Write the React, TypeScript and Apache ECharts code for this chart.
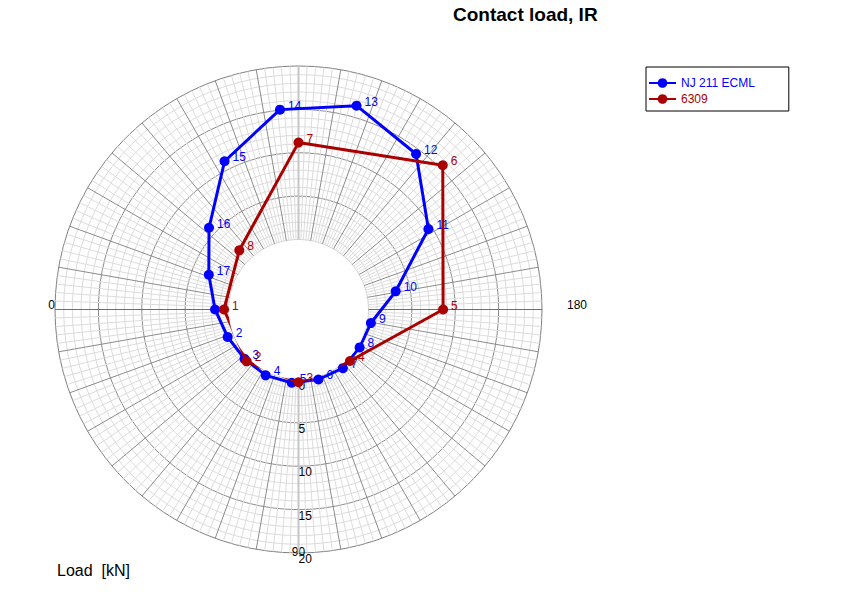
import React, { useEffect, useRef } from 'react';
import * as echarts from 'echarts';

const FONT = 'Liberation Sans, Arial, sans-serif';

const chartTitle = 'Contact load, IR';
const radiusName = 'Load  [kN]';

const blueName = 'NJ 211 ECML';
const blueAngles = [0, 21.2, 42.4, 63.5, 84.7, 105.9, 127.1, 148.2, 169.4, 190.6, 211.8, 232.9, 254.1, 275.3, 296.5, 317.6, 338.8];
const blueLoads = [1.55, 0.69, 0.36, 0.41, 0.41, 0.32, 0.41, 0.22, 0.42, 3.33, 9.55, 14.4, 16.36, 15.07, 11.03, 5.9, 3.02];
const blueLabels = ['1', '2', '3', '4', '5', '6', '7', '8', '9', '10', '11', '12', '13', '14', '15', '16', '17'];

const redName = '6309';
const redAngles = [0, 45, 90, 135, 180, 225, 270, 315];
const redLoads = [0.52, 0.38, 0.32, 0.32, 8.6, 15.45, 11.17, 1.58];
const redLabels = ['1', '2', '3', '4', '5', '6', '7', '8'];

const angleTickLabels = [0, 90, 180];
const radiusMin = 0;
const radiusMax = 20;
const radiusStep = 5;

const BLUE = '#0000ff';
const RED = '#aa0000';

function buildData(loads: number[], angles: number[], labels: string[]) {
  const pts: any[] = loads.map((r, i) => ({ name: labels[i], value: [r, angles[i]] }));
  pts.push({ name: '', value: [loads[0], angles[0]], symbol: 'none', label: { show: false } });
  return pts;
}

export default function App() {
  const ref = useRef<HTMLDivElement>(null);

  useEffect(() => {
    if (!ref.current) return;
    const chart = echarts.init(ref.current, undefined, { renderer: 'svg' });

    const spokeColors: string[] = [];
    for (let i = 0; i < 36; i++) {
      if (i === 9 || i === 27) spokeColors.push('#c6c6c6');
      else if (i === 0 || i === 18) spokeColors.push('#6e6e6e');
      else spokeColors.push('#8c8c8c');
    }

    const center = [298.5, 309.5];
    const radius = [70, 243.5];

    const option: any = {
      animation: false,
      backgroundColor: '#ffffff',
      title: [
        {
          text: chartTitle,
          left: 453,
          top: 5,
          padding: 0,
          textStyle: { fontSize: 19, fontWeight: 'bold', color: '#000', fontFamily: FONT },
        },
        {
          text: radiusName,
          left: 57,
          top: 562,
          padding: 0,
          textStyle: { fontSize: 16, fontWeight: 'normal', color: '#000', fontFamily: FONT },
        },
      ],
      legend: {
        left: 646,
        top: 67,
        orient: 'vertical',
        itemWidth: 27,
        itemHeight: 12,
        itemGap: 4,
        padding: [10, 34, 6, 2],
        borderColor: '#000',
        borderWidth: 1,
        borderRadius: 0,
        selectedMode: false,
        textStyle: { fontSize: 12, fontFamily: FONT },
        data: [
          { name: blueName, textStyle: { color: BLUE } },
          { name: redName, textStyle: { color: RED } },
        ],
      },
      polar: [
        { center, radius },
        { center, radius },
      ],
      angleAxis: [
        {
          polarIndex: 0,
          type: 'value',
          min: 0,
          max: 360,
          interval: 10,
          startAngle: 180,
          clockwise: false,
          axisLine: { show: false },
          axisTick: { show: false },
          axisLabel: {
            show: true,
            margin: -7,
            formatter: (v: number) => {
              if (!angleTickLabels.includes(v)) return '';
              if (v === 0) return '{l|' + v + '}';
              if (v === 180) return '{r|' + v + '}';
              return '{b|' + v + '}';
            },
            rich: {
              l: { padding: [0, 7, 9, 0], fontSize: 12, fontFamily: FONT, color: '#000' },
              r: { padding: [0, 0, 9, 32], fontSize: 12, fontFamily: FONT, color: '#000' },
              b: { fontSize: 12, fontFamily: FONT, color: '#000' },
            },
          },
          splitLine: { show: true, lineStyle: { color: spokeColors, width: 1 } },
          minorTick: { show: false, splitNumber: 5 },
          minorSplitLine: { show: true, lineStyle: { color: '#dcdcdc', width: 1 } },
        },
        {
          polarIndex: 1,
          type: 'value',
          min: 0,
          max: 360,
          interval: 180,
          startAngle: 270,
          clockwise: false,
          axisLine: { show: false },
          axisTick: { show: false },
          axisLabel: { show: false },
          splitLine: { show: true, lineStyle: { color: '#c6c6c6', width: 2 } },
        },
      ],
      radiusAxis: [
        {
          polarIndex: 0,
          type: 'value',
          min: radiusMin,
          max: radiusMax,
          interval: radiusStep,
          axisLine: { show: false },
          axisTick: { show: false },
          axisLabel: { show: false },
          splitLine: {
            show: true,
            lineStyle: { color: ['#d4d4d4', '#8c8c8c', '#8c8c8c', '#8c8c8c', '#808080'], width: 1 },
          },
          minorTick: { show: false, splitNumber: 5 },
          minorSplitLine: { show: true, lineStyle: { color: '#dcdcdc', width: 1 } },
        },
        {
          polarIndex: 1,
          type: 'value',
          min: radiusMin,
          max: radiusMax,
          interval: radiusStep,
          axisLine: { show: false },
          axisTick: { show: false },
          splitLine: { show: false },
          axisLabel: {
            show: true,
            margin: 0,
            align: 'left',
            verticalAlign: 'top',
            color: '#000',
            fontSize: 12,
            fontFamily: FONT,
          },
        },
      ],
      series: [
        {
          type: 'line',
          name: blueName,
          coordinateSystem: 'polar',
          polarIndex: 0,
          data: buildData(blueLoads, blueAngles, blueLabels),
          symbol: 'circle',
          symbolSize: 10,
          clip: false,
          lineStyle: { color: BLUE, width: 3 },
          itemStyle: { color: BLUE },
          label: {
            show: true,
            position: 'right',
            distance: 3,
            offset: [0, -4],
            formatter: '{b}',
            color: BLUE,
            fontSize: 12,
            fontFamily: FONT,
          },
          emphasis: { disabled: true },
          z: 3,
        },
        {
          type: 'line',
          name: redName,
          coordinateSystem: 'polar',
          polarIndex: 0,
          data: buildData(redLoads, redAngles, redLabels),
          symbol: 'circle',
          symbolSize: 10,
          clip: false,
          lineStyle: { color: RED, width: 3 },
          itemStyle: { color: RED },
          label: {
            show: true,
            position: 'right',
            distance: 3,
            offset: [0, -4],
            formatter: '{b}',
            color: RED,
            fontSize: 12,
            fontFamily: FONT,
          },
          emphasis: { disabled: true },
          z: 4,
        },
      ],
    };

    chart.setOption(option);
    return () => {
      chart.dispose();
    };
  }, []);

  return (
    <div
      ref={ref}
      style={{ position: 'fixed', left: 0, top: 0, width: 850, height: 600, background: '#fff' }}
    />
  );
}
